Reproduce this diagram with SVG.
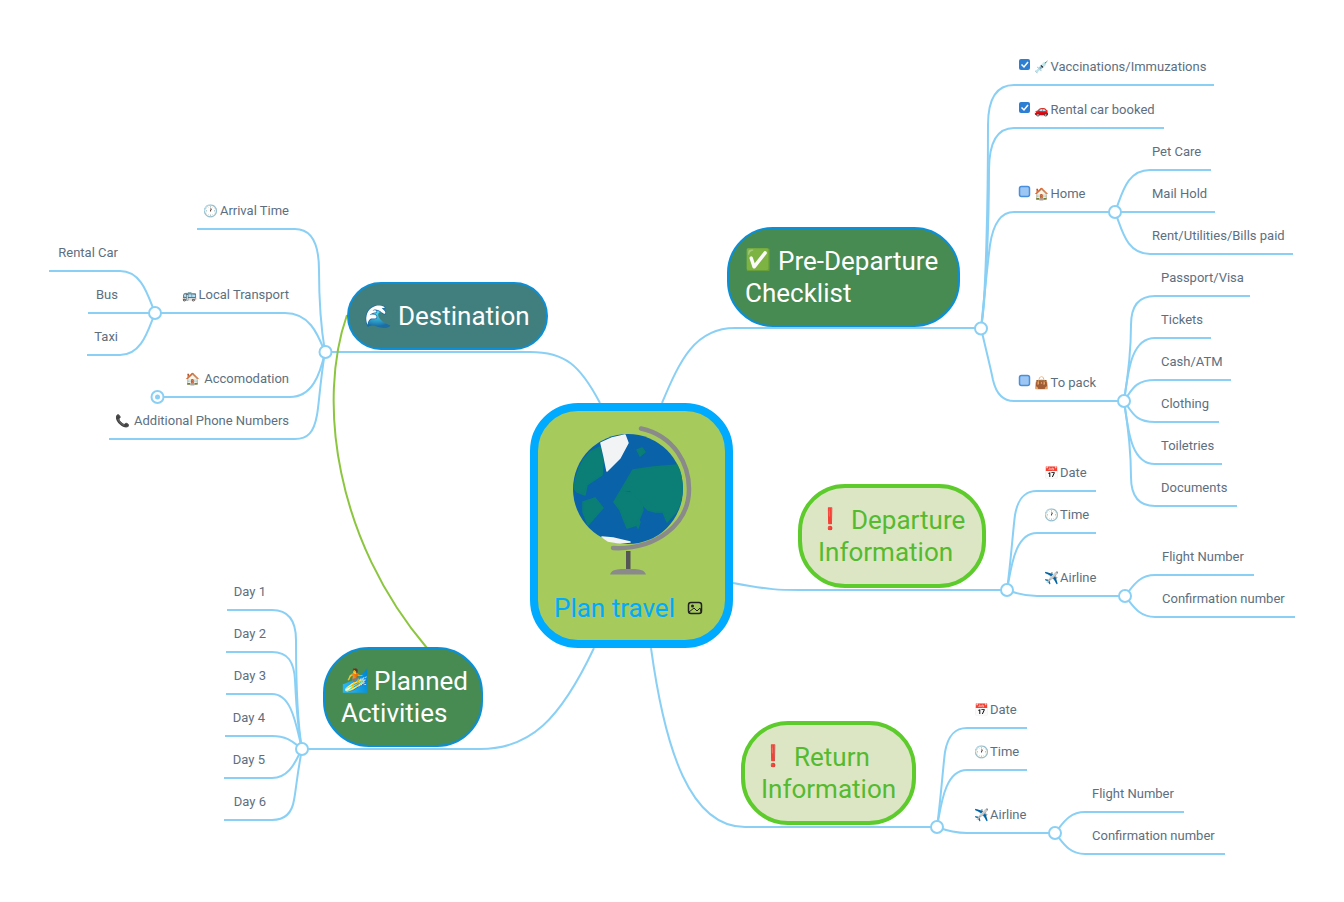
<svg xmlns="http://www.w3.org/2000/svg" width="1344" height="902" viewBox="0 0 1344 902">
<style>
text{font-family:"Roboto","Noto Sans",sans-serif}
.l{font-size:13px;fill:#5d6f7f}
.e{text-anchor:end}
.m{font-family:"Noto Color Emoji",sans-serif;font-size:12px}
.m2{font-family:"Noto Color Emoji",sans-serif;font-size:22.500px}
.big{font-size:26px;fill:#fff}
.g{font-size:26px;fill:#55ba2e}
.c path{fill:none;stroke:#8ad0f5;stroke-width:2}
.h{fill:#fff;stroke:#8ad0f5;stroke-width:2}
.t{stroke:#0a8fd8;stroke-width:2}
.i{fill:#dce6c5;stroke:#5ccb2b;stroke-width:4}
.land{fill:#0b7f75;stroke:#0b7f75;stroke-width:1.500;stroke-linejoin:round}
.ice{fill:#f2f3f4;stroke:#f2f3f4;stroke-width:1.500;stroke-linejoin:round}
</style>
<rect width="1344" height="902" fill="#fff"/>
<g class="c" id="connectors">
<path d="M662 403C680 360 695 328 735 328H981"/>
<path d="M733 583C770 590 780 590 800 590H1007"/>
<path d="M651 648C665 750 690 827 745 827H937"/>
<path d="M600 403C580 365 565 352 530 352H325"/>
<path d="M594 648C560 720 530 749 480 749H302"/>
<path d="M981 328C986 300 988 200 988 125C988 100 995 85 1014 85H1214"/>
<path d="M981 328C986 300 989 220 989 170C989 145 995 128 1014 128H1164"/>
<path d="M981 328C985 290 988 260 990 245C993 225 1000 212 1014 212H1115"/>
<path d="M981 328C986 350 990 365 993 380C996 393 1003 401 1014 401H1124"/>
<path d="M1115 212C1122 195 1126 170 1150 170H1211"/>
<path d="M1115 212H1215"/>
<path d="M1115 212C1122 229 1126 254 1150 254H1293"/>
<path d="M1124 401C1129 370 1131 340 1131 325C1131 305 1140 296 1155 296H1250"/>
<path d="M1124 401C1128 375 1130 338 1155 338H1211"/>
<path d="M1124 401C1132 390 1135 380 1155 380H1231"/>
<path d="M1124 401C1132 412 1135 422 1155 422H1219"/>
<path d="M1124 401C1128 427 1130 464 1155 464H1222"/>
<path d="M1124 401C1129 432 1131 462 1131 477C1131 497 1140 506 1155 506H1237"/>
<path d="M1007 590C1011 560 1013 530 1015 515C1018 498 1025 491 1037 491H1096"/>
<path d="M1007 590C1011 570 1014 533 1037 533H1096"/>
<path d="M1007 590C1015 593 1025 596 1037 596H1125"/>
<path d="M1125 596C1132 588 1138 575 1155 575H1254"/>
<path d="M1125 596C1132 604 1138 617 1155 617H1295"/>
<path d="M937 827C941 797 943 767 945 752C948 735 955 728 967 728H1027"/>
<path d="M937 827C941 807 944 770 967 770H1027"/>
<path d="M937 827C945 830 955 833 967 833H1055"/>
<path d="M1055 833C1062 825 1068 812 1085 812H1184"/>
<path d="M1055 833C1062 841 1068 854 1085 854H1225"/>
<path d="M325 352C320 322 319 300 319 270C319 240 310 229 295 229H197"/>
<path d="M325 352C318 335 310 313 285 313H155"/>
<path d="M325 352C320 375 312 397 290 397H157"/>
<path d="M325 352C320 382 319 405 317 415C314 432 308 439 295 439H109"/>
<path d="M155 313C148 296 142 271 120 271H49"/>
<path d="M155 313H88"/>
<path d="M155 313C148 330 142 355 120 355H87"/>
<path d="M302 749C297 720 296 680 296 640C296 620 288 610 272 610H227"/>
<path d="M302 749C297 725 296 700 295 680C294 662 288 652 272 652H226"/>
<path d="M302 749C296 725 292 694 272 694H226"/>
<path d="M302 749C294 743 288 736 272 736H225"/>
<path d="M302 749C296 760 290 778 272 778H224"/>
<path d="M302 749C297 775 296 790 294 800C292 813 285 820 272 820H224"/>
<path d="M347 315C317 400 335 540 427 648" style="stroke:#8cc63f"/>
<circle class="h" cx="981" cy="328.500" r="6"/>
<circle class="h" cx="1115" cy="212" r="6"/>
<circle class="h" cx="1124" cy="401" r="6"/>
<circle class="h" cx="1007" cy="590" r="6"/>
<circle class="h" cx="1125" cy="596" r="6"/>
<circle class="h" cx="937" cy="827" r="6"/>
<circle class="h" cx="1055" cy="833" r="6"/>
<circle class="h" cx="325.500" cy="352" r="6"/>
<circle class="h" cx="155" cy="313" r="6"/>
<circle class="h" cx="157.500" cy="397" r="6"/>
<circle cx="157.500" cy="397" r="2.500" fill="#8ad0f5"/>
<circle class="h" cx="302" cy="749" r="6"/>
</g>
<g id="center">
<rect x="534" y="407" width="195" height="237" rx="44" fill="#a6cb5c" stroke="#00aaff" stroke-width="8"/>
<path d="M641 428.500C675 436 689 465 689 489C689 525 655 550 613 548" fill="none" stroke="#8a8a8a" stroke-width="4.500" stroke-linecap="round"/>
<rect x="626" y="551" width="4.500" height="18" fill="#555"/>
<path d="M610 574.500C612 568 622 569 628 569C634 569 644 568 646 574.500Z" fill="#8a8a8a"/>
<circle cx="628" cy="489" r="55" fill="#0a62a9"/>
<path class="land" d="M574 488C576 472 582 460 590 452L600 447L603 462L602 475L587 485L585 495L577 492Z"/>
<path class="land" d="M583 502L595 498L603 508L595 517L588 525L583 512Z"/>
<path class="land" d="M620 492L633 470L653 467L677 465C681 472 682 480 682 488C682 498 680 505 676 512L667 522L663 512L655 512L648 510L640 502L630 490Z"/>
<path class="land" d="M614 502L620 492L633 493L642 505L643 510L637 525L627 528L623 518L620 510Z"/>
<path class="land" d="M638 519L640 522L638 528L637 526Z"/>
<path class="land" d="M637 450L642 448L645 452L640 456Z"/>
<path class="ice" d="M601 443L612 438L625 435L628 443L620 458L607 471L604 456Z"/>
<path class="ice" d="M602 537L613 538L630 542L620 543L608 541Z"/>
<text x="554" y="617" style="font-size:26px;fill:#00aaff">Plan travel</text>
<rect x="688.500" y="602.500" width="13" height="11" rx="2.500" fill="none" stroke="#222" stroke-width="1.500"/>
<circle cx="692.500" cy="606" r="1.500" fill="#222"/>
<path d="M689 612L694 608L697 611L700 608L701 612" fill="none" stroke="#222"/>
</g>
<g id="predeparture">
<rect class="t" x="728" y="228" width="231" height="98" rx="45" fill="#478a52"/>
<text class="big"><tspan class="m2" x="745" y="267" style="font-size:21px">✅</tspan><tspan x="778" y="270">Pre-Departure</tspan></text>
<text class="big" x="745" y="302">Checklist</text>
</g>
<g id="destination">
<rect class="t" x="348" y="283" width="199" height="66" rx="33" fill="#417f7e"/>
<text class="big"><tspan class="m2" x="364" y="324">🌊</tspan><tspan x="398" y="325">Destination</tspan></text>
</g>
<g id="planned">
<rect class="t" x="324" y="648" width="158" height="98" rx="45" fill="#478a52"/>
<text class="big"><tspan class="m2" x="341" y="688">🏄</tspan><tspan x="374" y="690">Planned</tspan></text>
<text class="big" x="341" y="722">Activities</text>
</g>
<g id="departure">
<rect class="i" x="800" y="486" width="184" height="100" rx="45"/>
<text class="g"><tspan class="m2" x="817" y="526" style="font-size:21px">❗</tspan><tspan x="851" y="529">Departure</tspan></text>
<text class="g" x="818" y="561">Information</text>
</g>
<g id="return">
<rect class="i" x="743" y="723" width="171" height="100" rx="45"/>
<text class="g"><tspan class="m2" x="760" y="763" style="font-size:21px">❗</tspan><tspan x="794" y="766">Return</tspan></text>
<text class="g" x="761" y="798">Information</text>
</g>
<g id="check1"><rect x="1019" y="59" width="11" height="11" rx="2" fill="#2d7fd3"/><path d="M1021.500 64.500L1024 67L1028 62" fill="none" stroke="#fff" stroke-width="1.500"/></g>
<g id="check2"><rect x="1019" y="102" width="11" height="11" rx="2" fill="#2d7fd3"/><path d="M1021.500 107.500L1024 110L1028 105" fill="none" stroke="#fff" stroke-width="1.500"/></g>
<g id="check3"><rect x="1019.500" y="186.500" width="10" height="10" rx="2" fill="#9cc6f3" stroke="#4a8fdc" stroke-width="1.500"/></g>
<g id="check4"><rect x="1019.500" y="375.500" width="10" height="10" rx="2" fill="#9cc6f3" stroke="#4a8fdc" stroke-width="1.500"/></g>
<g id="labels" transform="translate(0 -0.500)">
<text class="l"><tspan class="m" x="1034" y="71">💉</tspan><tspan x="1050.500" y="71">Vaccinations/Immuzations</tspan></text>
<text class="l"><tspan class="m" x="1034" y="114">🚗</tspan><tspan x="1050.500" y="114">Rental car booked</tspan></text>
<text class="l"><tspan class="m" x="1034" y="198">🏠</tspan><tspan x="1050.500" y="198">Home</tspan></text>
<text class="l"><tspan class="m" x="1034" y="387">👜</tspan><tspan x="1050.500" y="387">To pack</tspan></text>
<text class="l" x="1152" y="156">Pet Care</text>
<text class="l" x="1152" y="198">Mail Hold</text>
<text class="l" x="1152" y="240">Rent/Utilities/Bills paid</text>
<text class="l" x="1161" y="282">Passport/Visa</text>
<text class="l" x="1161" y="324">Tickets</text>
<text class="l" x="1161" y="366">Cash/ATM</text>
<text class="l" x="1161" y="408">Clothing</text>
<text class="l" x="1161" y="450">Toiletries</text>
<text class="l" x="1161" y="492">Documents</text>
<text class="l"><tspan class="m" x="1044" y="477">📅</tspan><tspan x="1060" y="477">Date</tspan></text>
<text class="l"><tspan class="m" x="1044" y="519">🕐</tspan><tspan x="1060" y="519">Time</tspan></text>
<text class="l"><tspan class="m" x="1044" y="582">✈️</tspan><tspan x="1060" y="582">Airline</tspan></text>
<text class="l" x="1162" y="561">Flight Number</text>
<text class="l" x="1162" y="603">Confirmation number</text>
<text class="l"><tspan class="m" x="974" y="714">📅</tspan><tspan x="990" y="714">Date</tspan></text>
<text class="l"><tspan class="m" x="974" y="756">🕐</tspan><tspan x="990" y="756">Time</tspan></text>
<text class="l"><tspan class="m" x="974" y="819">✈️</tspan><tspan x="990" y="819">Airline</tspan></text>
<text class="l" x="1092" y="798">Flight Number</text>
<text class="l" x="1092" y="840">Confirmation number</text>
<text class="l e"><tspan class="m" x="218" y="215">🕐</tspan><tspan x="289" y="215">Arrival Time</tspan></text>
<text class="l e"><tspan class="m" x="197" y="299">🚌</tspan><tspan x="289" y="299">Local Transport</tspan></text>
<text class="l e"><tspan class="m" x="200" y="383">🏠</tspan><tspan x="289" y="383">Accomodation</tspan></text>
<text class="l e"><tspan class="m" x="130" y="425">📞</tspan><tspan x="289" y="425">Additional Phone Numbers</tspan></text>
<text class="l e" x="118" y="257">Rental Car</text>
<text class="l e" x="118" y="299">Bus</text>
<text class="l e" x="118" y="341">Taxi</text>
<text class="l e" x="266" y="596">Day 1</text>
<text class="l e" x="266" y="638">Day 2</text>
<text class="l e" x="266" y="680">Day 3</text>
<text class="l e" x="265" y="722">Day 4</text>
<text class="l e" x="265" y="764">Day 5</text>
<text class="l e" x="266" y="806">Day 6</text>
</g>
</svg>
